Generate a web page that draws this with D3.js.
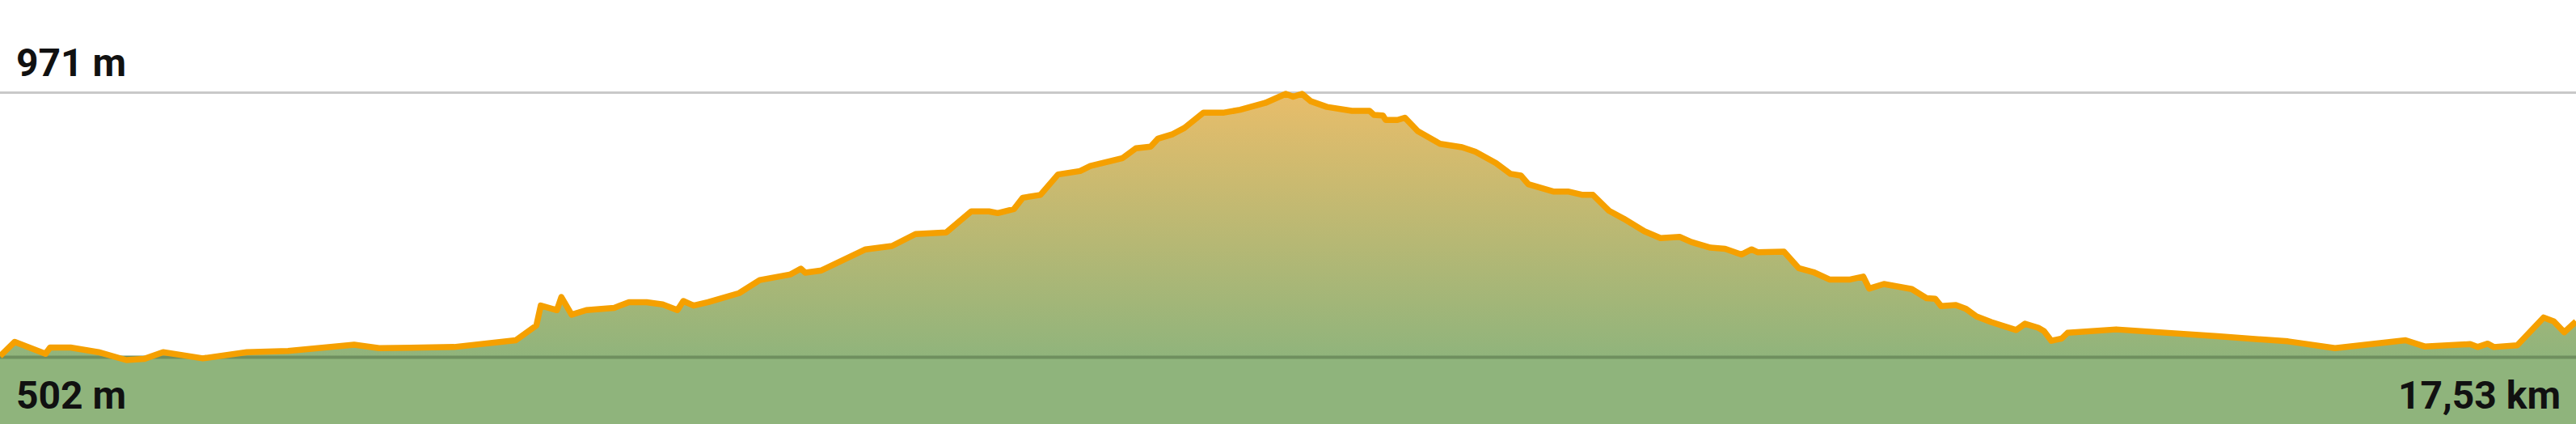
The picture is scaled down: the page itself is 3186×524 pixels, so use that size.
<html>
    <head>
        <meta charset="utf-8">
        <script src="https://d3js.org/d3.v7.min.js"></script>
        <title>elevation profile</title>
        <style>
            body { margin: 0; background-color: white; }
        </style>
    </head>
    <body>
        <svg id="profile"></svg>
        <script>
            // distance along the track (km) and elevation (m)
            const distanceKm = [
                0.00, 0.10, 0.31, 0.34, 0.48, 0.67, 0.86, 0.98, 1.11, 1.38,
                1.68, 1.96, 2.41, 2.58, 3.09, 3.51, 3.65, 3.68, 3.79, 3.82,
                3.89, 3.99, 4.18, 4.28, 4.40, 4.51, 4.61, 4.65, 4.72, 4.82,
                5.03, 5.17, 5.38, 5.45, 5.48, 5.59, 5.89, 6.07, 6.23, 6.44,
                6.61, 6.73, 6.79, 6.90, 6.96, 7.08, 7.20, 7.35, 7.42, 7.64,
                7.73, 7.83, 7.88, 7.98, 8.06, 8.19, 8.33, 8.44, 8.61, 8.75,
                8.80, 8.86, 8.92, 9.03, 9.20, 9.32, 9.35, 9.41, 9.43, 9.51,
                9.56, 9.65, 9.80, 9.95, 10.04, 10.18, 10.28, 10.35, 10.40, 10.57,
                10.67, 10.77, 10.84, 10.95, 11.05, 11.19, 11.30, 11.43, 11.51, 11.64,
                11.74, 11.85, 11.92, 11.96, 12.14, 12.24, 12.34, 12.45, 12.59, 12.68,
                12.72, 12.82, 13.01, 13.11, 13.17, 13.21, 13.31, 13.38, 13.45, 13.55,
                13.72, 13.78, 13.87, 13.91, 13.96, 14.03, 14.07, 14.40, 15.09, 15.57,
                15.89, 16.37, 16.50, 16.81, 16.86, 16.93, 16.97, 17.13, 17.31, 17.38,
                17.45, 17.53
            ];
            const elevationM = [
                509, 534, 513, 524, 524, 516, 502, 504, 516, 505,
                516, 518, 529, 523, 525, 537, 563, 598, 590, 613,
                582, 590, 594, 604, 604, 600, 590, 606, 598, 604,
                620, 643, 653, 663, 656, 660, 697, 703, 724, 727,
                764, 764, 761, 768, 788, 793, 829, 835, 844, 858,
                875, 878, 892, 900, 911, 938, 938, 943, 955, 971,
                966, 971, 958, 948, 941, 941, 934, 933, 925, 925,
                929, 905, 883, 877, 869, 849, 830, 827, 812, 799,
                799, 793, 793, 765, 751, 729, 717, 719, 710, 700,
                698, 688, 697, 692, 693, 664, 657, 644, 644, 649,
                628, 636, 627, 611, 610, 597, 599, 592, 579, 569,
                555, 566, 559, 553, 536, 540, 550, 556, 544, 535,
                523, 537, 526, 530, 525, 531, 525, 528, 577, 570,
                551, 570
            ];
            const minLabel = "502 m";
            const maxLabel = "971 m";
            const distLabel = "17,53 km";

            let data = distanceKm.map((d, i) => ({'km': d, 'ele': elevationM[i]}));

            const width = 3186;
            const height = 524;

            let svg = d3.select("svg#profile")
                        .attr("width", width)
                        .attr("height", height);

            const minEle = d3.min(elevationM);
            const maxEle = d3.max(elevationM);

            const xScale = d3.scaleLinear()
                             .domain([0, d3.max(distanceKm)])
                             .range([0, width]);
            const yScale = d3.scaleLinear()
                             .domain([minEle, maxEle])
                             .range([445, 116]);

            // orange at the top fading into green at the bottom
            let grad = svg.append("defs").append("linearGradient")
                          .attr("id", "fillGrad")
                          .attr("gradientUnits", "userSpaceOnUse")
                          .attr("x1", 0).attr("x2", 0)
                          .attr("y1", yScale(maxEle))
                          .attr("y2", yScale(minEle));
            grad.append("stop").attr("offset", "0%").attr("stop-color", "#e8bd6a");
            grad.append("stop").attr("offset", "100%").attr("stop-color", "#8fb47c");

            // top reference line
            svg.append("line")
               .attr("x1", 0).attr("x2", width)
               .attr("y1", yScale(maxEle) - 1.5).attr("y2", yScale(maxEle) - 1.5)
               .attr("stroke", "#c9c9c9")
               .attr("stroke-width", 3);

            const area = d3.area()
                           .x(d => xScale(d['km']))
                           .y0(height)
                           .y1(d => yScale(d['ele']));
            svg.append("path")
               .datum(data)
               .attr("d", area)
               .attr("fill", "url(#fillGrad)");

            // bottom reference line
            svg.append("line")
               .attr("x1", 0).attr("x2", width)
               .attr("y1", yScale(minEle) - 3.5).attr("y2", yScale(minEle) - 3.5)
               .attr("stroke", "#6f8f5f")
               .attr("stroke-width", 4);

            const line = d3.line()
                           .x(d => xScale(d['km']))
                           .y(d => yScale(d['ele']));
            svg.append("path")
               .datum(data)
               .attr("d", line)
               .attr("fill", "none")
               .attr("stroke", "#f5a000")
               .attr("stroke-width", 7.5)
               .attr("stroke-linejoin", "round");

            // labels
            let labels = svg.append("g")
                            .style("font-family", "Roboto, sans-serif")
                            .style("font-weight", "bold")
                            .style("font-size", "48px")
                            .attr("fill", "#111");
            labels.append("text")
                  .attr("x", 20).attr("y", yScale(maxEle) - 22)
                  .text(maxLabel);
            labels.append("text")
                  .attr("x", 20).attr("y", yScale(minEle) + 60)
                  .text(minLabel);
            labels.append("text")
                  .attr("x", width - 19).attr("y", yScale(minEle) + 60)
                  .attr("text-anchor", "end")
                  .text(distLabel);
        </script>
    </body>
</html>
